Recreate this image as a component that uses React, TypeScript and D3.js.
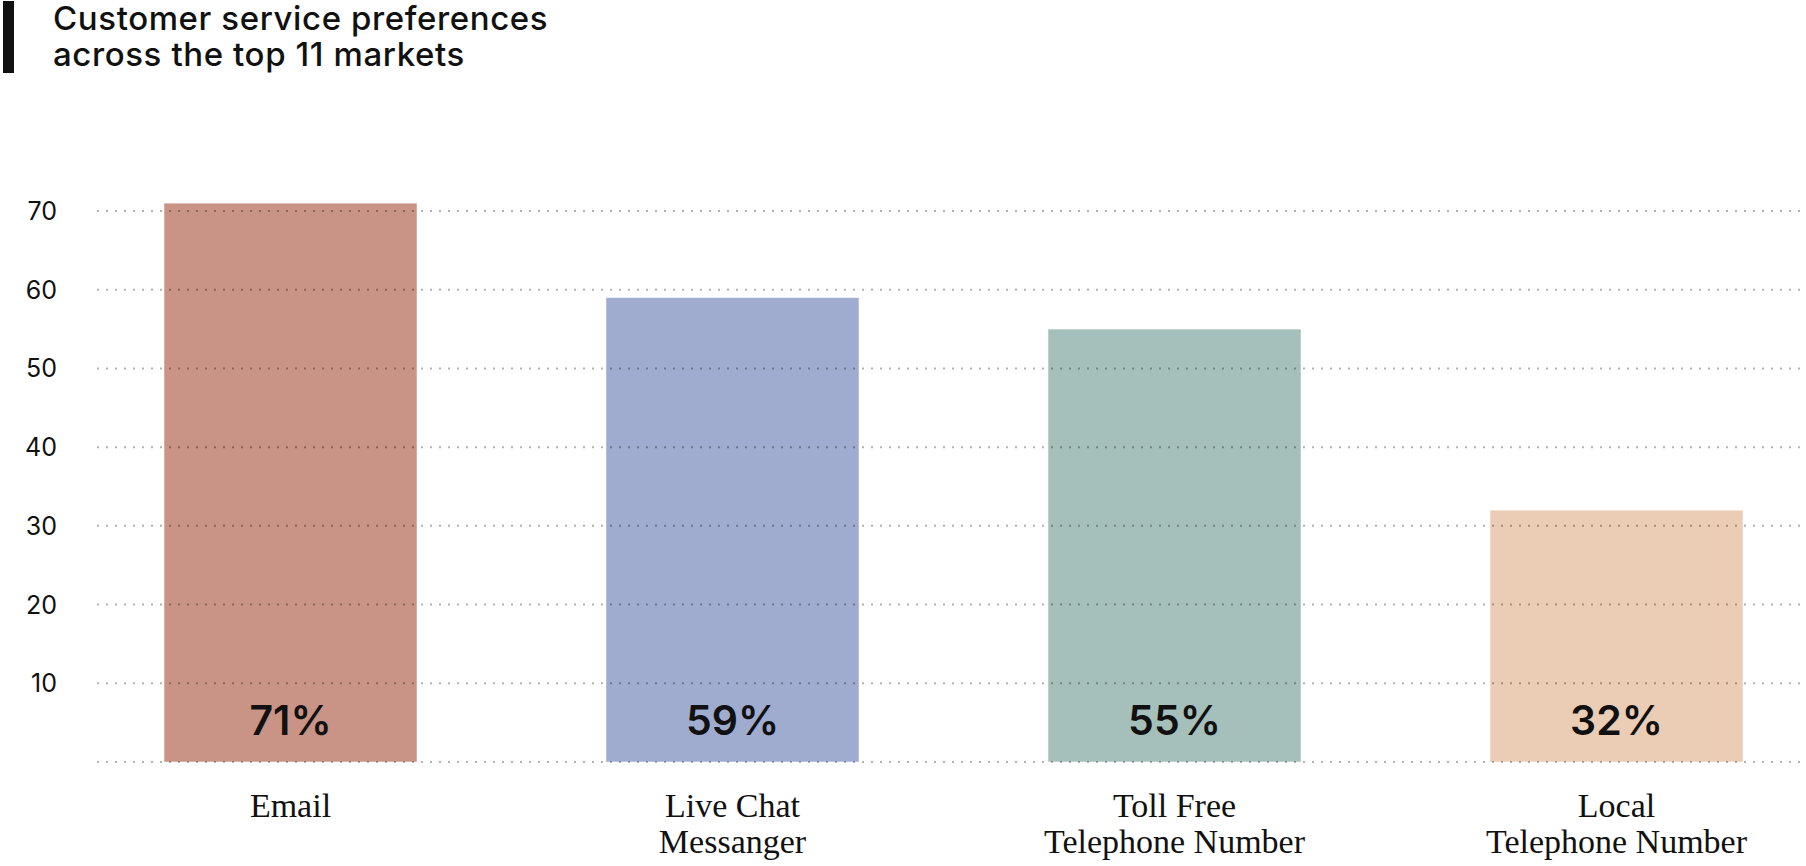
import React from "react";
import * as d3 from "d3";

const categories: string[][] = [
  ["Email"],
  ["Live Chat", "Messanger"],
  ["Toll Free", "Telephone Number"],
  ["Local", "Telephone Number"],
];
const values: number[] = [71, 59, 55, 32];
const valueLabels: string[] = ["71%", "59%", "55%", "32%"];
const barColors: string[] = ["#c99385", "#9fabcf", "#a5c0ba", "#ebcdb6"];
const tickValues: number[] = [10, 20, 30, 40, 50, 60, 70];
const titleLines: string[] = ["Customer service preferences", "across the top 11 markets"];

const W = 1806;
const H = 866;

export default function App() {
  const keys = categories.map((c) => c.join(" "));
  const x = d3
    .scaleBand<string>()
    .domain(keys)
    .range([69.5, 1837.5])
    .paddingInner(0.4276)
    .paddingOuter(0.2138);
  const y = d3.scaleLinear().domain([0, 70]).range([762, 211]);
  const sans = "Inter, 'Noto Sans', sans-serif";

  return (
    <div style={{ position: "absolute", left: 0, top: 0 }}>
      <svg width={W} height={H} style={{ display: "block", background: "#fff" }}>
        {/* title */}
        <rect x={3} y={1} width={11} height={72} fill="#111" />
        {titleLines.map((t, i) => (
          <text
            key={t}
            x={53}
            y={30 + i * 36}
            fontFamily={sans}
            fontSize={33}
            fontWeight={500}
            letterSpacing={0.6}
            fill="#111"
          >
            {t}
          </text>
        ))}

        {/* bars */}
        {values.map((v, i) => (
          <rect
            key={keys[i]}
            x={x(keys[i])}
            y={y(v)}
            width={x.bandwidth()}
            height={y(0) - y(v)}
            fill={barColors[i]}
            stroke="#ffffff"
            strokeOpacity={0.5}
            strokeWidth={1}
          />
        ))}

        {/* gridlines on top */}
        {[0, ...tickValues].map((t) => (
          <line
            key={"g" + t}
            x1={97}
            x2={W}
            y1={y(t)}
            y2={y(t)}
            stroke="rgba(0,0,0,0.3)"
            strokeWidth={2}
            strokeDasharray="2 7"
          />
        ))}

        {/* tick labels */}
        {tickValues.map((t) => (
          <text
            key={"t" + t}
            x={57}
            y={y(t) + 9}
            textAnchor="end"
            fontFamily={sans}
            fontSize={25}
            fill="#111"
          >
            {t}
          </text>
        ))}

        {/* value labels */}
        {values.map((v, i) => (
          <text
            key={"v" + i}
            x={(x(keys[i]) as number) + x.bandwidth() / 2}
            y={y(0) - 27}
            textAnchor="middle"
            fontFamily={sans}
            fontWeight={600}
            fontSize={41}
            fill="#111"
          >
            {valueLabels[i]}
          </text>
        ))}

        {/* category labels */}
        {categories.map((lines, i) => (
          <text
            key={"c" + i}
            x={(x(keys[i]) as number) + x.bandwidth() / 2}
            y={817}
            textAnchor="middle"
            fontFamily="'Liberation Serif', 'DejaVu Serif', serif"
            fontSize={34}
            fill="#111"
          >
            {lines.map((l, j) => (
              <tspan key={l} x={(x(keys[i]) as number) + x.bandwidth() / 2} dy={j === 0 ? 0 : 36}>
                {l}
              </tspan>
            ))}
          </text>
        ))}
      </svg>
    </div>
  );
}
